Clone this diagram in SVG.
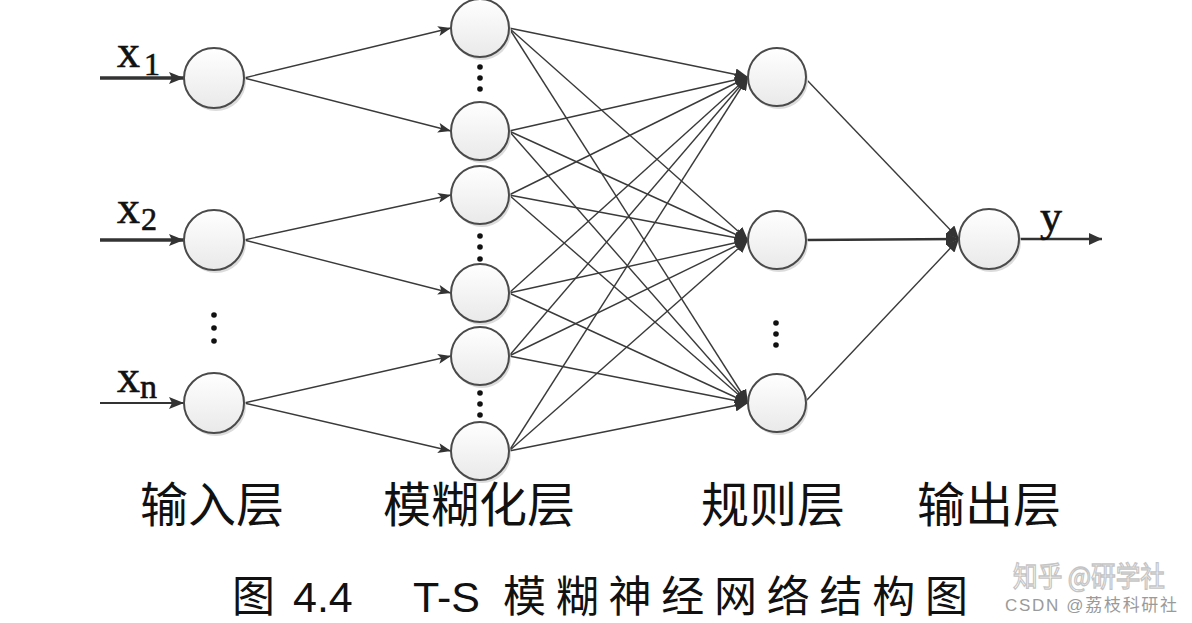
<svg xmlns="http://www.w3.org/2000/svg" width="1192" height="623" viewBox="0 0 1192 623">
<style>
.node{fill:url(#ng);stroke:#4a4a4a;stroke-width:2}
.shadow{fill:#dcdcdc}
.ln{stroke:#3a3a3a;stroke-width:1.4;fill:none;marker-end:url(#ah)}
.ln2{stroke:#3a3a3a;stroke-width:1.4;fill:none;marker-end:url(#ah2)}
.dot{fill:#111}
.lab{font-family:"Noto Sans CJK SC","Noto Sans CJK JP",sans-serif;font-size:48px;fill:#111}
.var{font-family:"Liberation Serif","DejaVu Serif",serif;fill:#111;stroke:#111;stroke-width:0.6}
.cap{font-family:"Noto Sans CJK SC","Noto Sans CJK JP",sans-serif;font-size:43px;fill:#111}
</style>
<defs>
<linearGradient id="ng" x1="0" y1="0" x2="0" y2="1">
<stop offset="0" stop-color="#ffffff"/>
<stop offset="1" stop-color="#e9e9e9"/>
</linearGradient>
<marker id="ah" markerUnits="userSpaceOnUse" markerWidth="14" markerHeight="10" refX="13" refY="5" orient="auto">
<path d="M0,0 L13,5 L0,10 L3,5 z" fill="#333"/>
</marker>
<marker id="ah2" markerUnits="userSpaceOnUse" markerWidth="14" markerHeight="12" refX="13" refY="6" orient="auto">
<path d="M0,0 L13,6 L0,12 z" fill="#333"/>
</marker>
<marker id="ahb" markerUnits="userSpaceOnUse" markerWidth="16" markerHeight="12" refX="15" refY="6" orient="auto">
<path d="M0,0 L15,6 L0,12 L3,6 z" fill="#333"/>
</marker>
</defs>
<rect width="1192" height="623" fill="#ffffff"/>

<g id="connectors">
<line x1="100" y1="78" x2="184" y2="78" stroke="#333" stroke-width="3.5" marker-end="url(#ahb)"/>
<line x1="100" y1="240" x2="184" y2="240" stroke="#333" stroke-width="3.5" marker-end="url(#ahb)"/>
<line x1="100" y1="403" x2="184" y2="403" stroke="#333" stroke-width="2.2" marker-end="url(#ahb)"/>
<line class="ln" x1="244" y1="78" x2="451" y2="28"/>
<line class="ln" x1="244" y1="78" x2="451" y2="131"/>
<line class="ln" x1="244" y1="240" x2="451" y2="195"/>
<line class="ln" x1="244" y1="240" x2="451" y2="293"/>
<line class="ln" x1="244" y1="403" x2="451" y2="356"/>
<line class="ln" x1="244" y1="403" x2="451" y2="451"/>
<line class="ln2" x1="509" y1="28" x2="748" y2="77"/>
<line class="ln2" x1="509" y1="28" x2="748" y2="240"/>
<line class="ln2" x1="509" y1="28" x2="748" y2="403"/>
<line class="ln2" x1="509" y1="131" x2="748" y2="77"/>
<line class="ln2" x1="509" y1="131" x2="748" y2="240"/>
<line class="ln2" x1="509" y1="131" x2="748" y2="403"/>
<line class="ln2" x1="509" y1="195" x2="748" y2="77"/>
<line class="ln2" x1="509" y1="195" x2="748" y2="240"/>
<line class="ln2" x1="509" y1="195" x2="748" y2="403"/>
<line class="ln2" x1="509" y1="293" x2="748" y2="77"/>
<line class="ln2" x1="509" y1="293" x2="748" y2="240"/>
<line class="ln2" x1="509" y1="293" x2="748" y2="403"/>
<line class="ln2" x1="509" y1="356" x2="748" y2="77"/>
<line class="ln2" x1="509" y1="356" x2="748" y2="240"/>
<line class="ln2" x1="509" y1="356" x2="748" y2="403"/>
<line class="ln2" x1="509" y1="451" x2="748" y2="77"/>
<line class="ln2" x1="509" y1="451" x2="748" y2="240"/>
<line class="ln2" x1="509" y1="451" x2="748" y2="403"/>
<line class="ln2" x1="806" y1="79" x2="959" y2="239"/>
<line x1="806" y1="240" x2="959" y2="239" stroke="#333" stroke-width="2.6" marker-end="url(#ah2)"/>
<line class="ln2" x1="806" y1="401" x2="959" y2="239"/>
<line x1="1019" y1="239" x2="1102" y2="239" stroke="#333" stroke-width="2.6" marker-end="url(#ah2)"/>
</g>

<g id="input-layer">
<g id="in1"><circle class="shadow" cx="216" cy="81" r="30"/><circle class="node" cx="214" cy="78" r="30"/></g>
<g id="in2"><circle class="shadow" cx="216" cy="243" r="30"/><circle class="node" cx="214" cy="240" r="30"/></g>
<g id="in3"><circle class="shadow" cx="216" cy="406" r="30"/><circle class="node" cx="214" cy="403" r="30"/></g>
<g id="in-dots"><circle class="dot" cx="214" cy="315" r="2.8"/><circle class="dot" cx="214" cy="328" r="2.8"/><circle class="dot" cx="214" cy="341" r="2.8"/></g>
</g>

<g id="fuzzy-layer">
<g id="f1"><circle class="shadow" cx="482" cy="31" r="29"/><circle class="node" cx="480" cy="28" r="29"/></g>
<g id="f2"><circle class="shadow" cx="482" cy="134" r="29"/><circle class="node" cx="480" cy="131" r="29"/></g>
<g id="f3"><circle class="shadow" cx="482" cy="198" r="29"/><circle class="node" cx="480" cy="195" r="29"/></g>
<g id="f4"><circle class="shadow" cx="482" cy="296" r="29"/><circle class="node" cx="480" cy="293" r="29"/></g>
<g id="f5"><circle class="shadow" cx="482" cy="359" r="29"/><circle class="node" cx="480" cy="356" r="29"/></g>
<g id="f6"><circle class="shadow" cx="482" cy="454" r="29"/><circle class="node" cx="480" cy="451" r="29"/></g>
<g id="f-dots">
<circle class="dot" cx="480" cy="67" r="2.8"/><circle class="dot" cx="480" cy="78" r="2.8"/><circle class="dot" cx="480" cy="89" r="2.8"/>
<circle class="dot" cx="480" cy="236" r="2.8"/><circle class="dot" cx="480" cy="247" r="2.8"/><circle class="dot" cx="480" cy="259" r="2.8"/>
<circle class="dot" cx="480" cy="393" r="2.8"/><circle class="dot" cx="480" cy="404" r="2.8"/><circle class="dot" cx="480" cy="415" r="2.8"/>
</g>
</g>

<g id="rule-layer">
<g id="r1"><circle class="shadow" cx="779" cy="80" r="29"/><circle class="node" cx="777" cy="77" r="29"/></g>
<g id="r2"><circle class="shadow" cx="779" cy="243" r="29"/><circle class="node" cx="777" cy="240" r="29"/></g>
<g id="r3"><circle class="shadow" cx="779" cy="406" r="29"/><circle class="node" cx="777" cy="403" r="29"/></g>
<g id="r-dots"><circle class="dot" cx="776" cy="323" r="2.8"/><circle class="dot" cx="776" cy="334" r="2.8"/><circle class="dot" cx="776" cy="345" r="2.8"/></g>
</g>

<g id="output-layer">
<g id="out"><circle class="shadow" cx="991" cy="242" r="30"/><circle class="node" cx="989" cy="239" r="30"/></g>
</g>

<g id="var-labels">
<text class="var" x="117" y="67" font-size="46">x<tspan font-size="32" x="144" y="75">1</tspan></text>
<text class="var" x="117" y="223" font-size="46">x<tspan font-size="32" x="141" y="230">2</tspan></text>
<text class="var" x="117" y="392" font-size="46">x<tspan font-size="34" x="140" y="398">n</tspan></text>
<text class="var" x="1040" y="231" font-size="44">y</text>
</g>

<g id="layer-labels">
<text class="lab" x="212" y="522" text-anchor="middle">输入层</text>
<text class="lab" x="479" y="522" text-anchor="middle">模糊化层</text>
<text class="lab" x="773" y="522" text-anchor="middle">规则层</text>
<text class="lab" x="989" y="522" text-anchor="middle">输出层</text>
</g>

<g id="caption">
<text class="cap" y="612"><tspan x="232">图</tspan><tspan x="293" font-family="Liberation Sans Narrow,Liberation Sans,sans-serif">4.4</tspan><tspan x="413" font-family="Liberation Sans Narrow,Liberation Sans,sans-serif">T-S</tspan><tspan x="503" textLength="465" lengthAdjust="spacing">模糊神经网络结构图</tspan></text>
</g>

<g id="watermark">
<text x="1013" y="587" font-family="Noto Sans CJK SC,sans-serif" font-size="28" fill="#ffffff" stroke="#c4c4c4" stroke-width="1.3" textLength="152" lengthAdjust="spacingAndGlyphs">知乎 @研学社</text>
<text x="1005" y="611" font-family="Liberation Sans,Noto Sans CJK SC,sans-serif" font-size="17" fill="#9a9a9a" textLength="172">CSDN @荔枝科研社</text>
</g>
</svg>
